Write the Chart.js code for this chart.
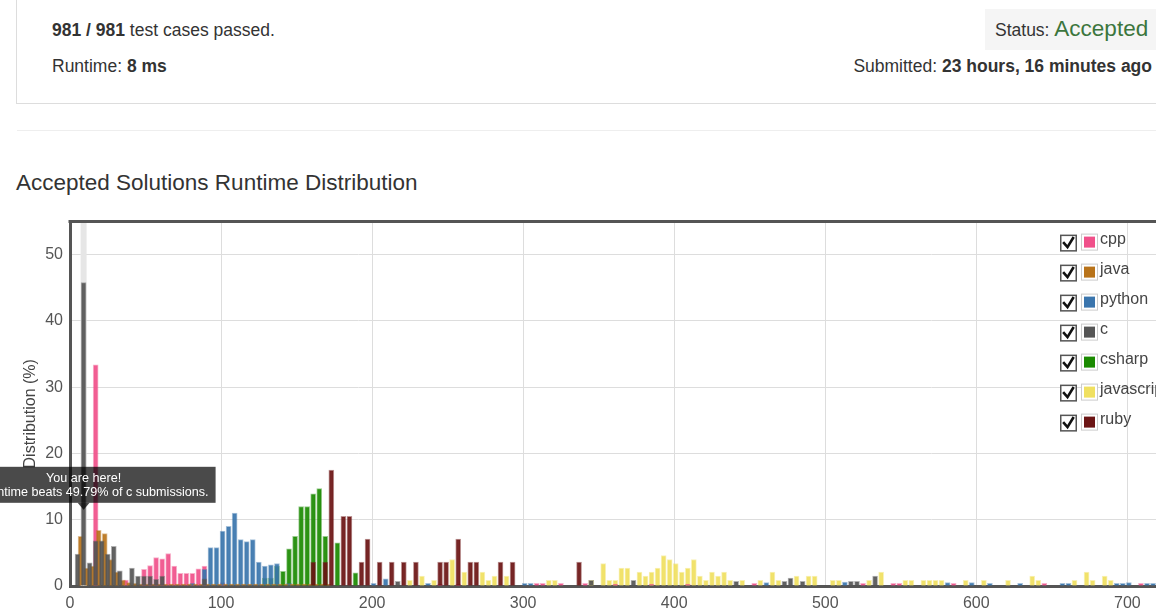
<!DOCTYPE html>
<html><head><meta charset="utf-8">
<script src="https://cdn.jsdelivr.net/npm/chart.js@4/dist/chart.umd.min.js"></script>
<style>
html,body{margin:0;padding:0;background:#fff;}
body{width:1156px;height:614px;overflow:hidden;position:relative;font-family:'Liberation Sans',Arial,Helvetica,sans-serif;color:#333;}
.panel{position:absolute;left:16px;top:-2px;width:1160px;height:104px;border:1px solid #ddd;}
.t{position:absolute;font-size:17.5px;color:#333;white-space:nowrap;line-height:20px;}
.status{position:absolute;left:985px;top:9px;width:190px;height:41px;background:#f5f5f5;}
.hr{position:absolute;left:17px;top:130px;width:1139px;height:1px;background:#eee;}
.title{position:absolute;left:16px;top:170px;font-size:22.5px;color:#333;white-space:nowrap;line-height:26px;}
#wrap{position:absolute;left:0;top:205px;width:1220px;height:409px;}
</style></head>
<body>
<div class="panel"></div>
<div class="t" style="left:52px;top:20px;"><b>981 / 981</b> test cases passed.</div>
<div class="t" style="left:52px;top:56px;">Runtime: <b>8 ms</b></div>
<div class="status"></div>
<div class="t" style="left:995px;top:19px;">Status: <span style="color:#3c763d;font-size:22.5px;">Accepted</span></div>
<div class="t" style="right:4px;top:56px;">Submitted: <b>23 hours, 16 minutes ago</b></div>
<div class="hr"></div>
<div class="title">Accepted Solutions Runtime Distribution</div>
<div id="wrap"><canvas id="c" width="1220" height="409"></canvas></div>
<script>
const xTicks = [0,100,200,300,400,500,600,700];
const yTicks = [0,10,20,30,40,50];
const yAxisTitle = 'Distribution (%)';

const cppX = [17,37,49,53,57,61,65,69,73,77,81,85,89,101,245,257,309,313,325,341,361,385,409,453,525,545,549,585,645,709];
const cppY = [33.4,0.9,2.5,3.1,4.3,4.1,4.9,3.0,1.9,1.9,1.9,2.6,3.0,0.5,0.3,0.3,0.4,0.4,0.4,0.4,0.3,0.3,0.3,0.4,0.4,0.4,0.4,0.4,0.4,0.4];

const javaX = [7,11,15,19,23,27,31,35,39,43,47,51,55,59,63,67,71,75,79,83,87,91,95,99,103,107,111,115,119,123,127,131,135,139,143,147,151,155,159,163,167,171];
const javaY = [7.5,2.7,3.0,8.4,7.9,4.0,2.1,0.9,0.5,0.4,0.3,0.3,0.3,0.3,0.3,0.3,0.3,0.3,0.3,0.3,0.3,0.3,0.3,0.3,0.3,0.3,0.3,0.3,0.3,0.3,0.3,0.3,0.3,0.3,0.3,0.3,0.3,0.3,0.3,0.3,0.3,0.3];

const pythonX = [81,89,93,97,101,105,109,113,117,121,125,129,133,137,145,201,209,237,301,305,461,513,581,597,609,629,657,661,693,697,701,713,717];
const pythonY = [0.4,2.5,5.8,5.8,8.3,9.0,11.0,7.0,6.7,7.0,3.6,3.0,3.2,3.4,0.4,0.4,1.1,0.4,0.4,0.4,0.5,0.6,0.5,0.5,0.4,0.4,0.4,0.4,0.4,0.4,0.5,0.4,0.4];

const cX = [5,9,13,17,21,25,29,33,41,45,49,53,57,61,89,217,345,373,441,473,477,485,517,521,533];
const cY = [4.8,45.8,3.5,6.8,6.8,4.8,6.0,2.3,2.7,1.5,1.5,1.5,1.0,1.5,1.1,0.7,0.85,0.85,0.7,0.7,1.2,0.7,0.7,0.7,1.5];

const csharpX = [129,133,137,141,145,149,153,157,161,165,169,177,189];
const csharpY = [1.2,1.2,3.0,2.2,5.6,7.5,12.0,12.0,13.9,14.7,7.5,6.5,2.0];

const jsX = [225,233,241,253,261,273,277,281,289,317,321,345,353,357,361,365,369,377,381,385,389,393,397,401,405,409,413,417,421,425,429,433,437,445,457,465,469,481,489,493,505,509,529,537,553,557,565,569,573,577,593,605,621,637,641,665,673,677,685,689];
const jsY = [0.85,1.5,0.85,4.0,2.1,2.1,0.85,1.5,1.5,0.85,0.85,0.85,3.4,0.85,0.85,2.7,2.7,2.1,1.5,2.1,2.7,4.6,4.0,3.4,2.1,2.7,4.0,1.5,0.85,2.1,1.5,2.1,0.85,0.85,0.85,2.1,0.85,1.5,1.5,1.5,0.85,0.85,0.85,2.1,0.85,0.85,0.85,0.85,0.85,0.85,0.85,0.85,0.85,1.5,0.85,0.85,2.1,0.85,1.5,0.85];

const rubyX = [161,169,173,181,185,193,197,205,213,221,229,245,249,257,265,269,285,293,337];
const rubyY = [3.6,3.6,17.5,10.5,10.5,3.6,7.1,3.6,3.6,3.6,3.6,3.6,3.6,7.1,3.6,3.6,3.6,3.6,3.6];

const youAreHereX = 9;
const tooltipAnchorY = 11.5;
const tooltipLines = ['You are here!', 'Runtime beats 49.79% of c submissions.'];

const langs = [
  {label:'cpp', color:'#f0508a', xs:cppX, ys:cppY, order:5},
  {label:'java', color:'#b8731a', xs:javaX, ys:javaY, order:2},
  {label:'python', color:'#3a75ad', xs:pythonX, ys:pythonY, order:3},
  {label:'c', color:'#555555', xs:cX, ys:cY, order:0},
  {label:'csharp', color:'#1a8a00', xs:csharpX, ys:csharpY, order:4},
  {label:'javascript', color:'#f0e060', xs:jsX, ys:jsY, order:6},
  {label:'ruby', color:'#6b1414', xs:rubyX, ys:rubyY, order:1}
];
function pts(xs, ys){ return xs.map((x,i)=>({x:x, y:ys[i]})); }
function hexA(h,a){const r=parseInt(h.slice(1,3),16),g=parseInt(h.slice(3,5),16),b=parseInt(h.slice(5,7),16);return `rgba(${r},${g},${b},${a})`;}

const FONT = "'Liberation Sans', Arial, sans-serif";
Chart.defaults.font.family = FONT;

const bandPlugin = {
  id:'band',
  beforeDatasetsDraw(chart){
    const ctx=chart.ctx, ca=chart.chartArea, x=chart.scales.x.getPixelForValue(youAreHereX);
    ctx.save(); ctx.fillStyle='#e6e6e6'; ctx.fillRect(x-3, ca.top, 6, ca.bottom-ca.top); ctx.restore();
  }
};
const overlayPlugin = {
  id:'overlay',
  afterDraw(chart){
    const ctx=chart.ctx, ca=chart.chartArea;
    ctx.save();
    ctx.strokeStyle='#555'; ctx.lineWidth=3;
    ctx.beginPath(); ctx.moveTo(ca.left-1.5, ca.top); ctx.lineTo(ca.right, ca.top); ctx.stroke();
    // y axis title
    ctx.save();
    ctx.translate(31, (ca.top+ca.bottom)/2 + 10);
    ctx.rotate(-Math.PI/2);
    ctx.fillStyle='#444'; ctx.font='16px '+FONT; ctx.textAlign='center'; ctx.textBaseline='middle';
    ctx.fillText(yAxisTitle, 0, 0);
    ctx.restore();
    // legend
    const x0 = ca.left + 990;
    chart.data.datasets.forEach((d,i)=>{
      const cy = ca.top + 21 + i*30;
      ctx.fillStyle='#fff'; ctx.fillRect(x0, cy-8, 17, 17);
      ctx.strokeStyle='#555'; ctx.lineWidth=1.5; ctx.strokeRect(x0+0.75, cy-7.25, 15.5, 15.5);
      ctx.strokeStyle='#111'; ctx.lineWidth=2.6; ctx.lineCap='square';
      ctx.beginPath(); ctx.moveTo(x0+4, cy+0.5); ctx.lineTo(x0+7.5, cy+4.5); ctx.lineTo(x0+13, cy-4.5); ctx.stroke();
      ctx.fillStyle='#fff'; ctx.fillRect(x0+21, cy-9, 17, 17);
      ctx.strokeStyle='#ccc'; ctx.lineWidth=1; ctx.strokeRect(x0+21.5, cy-8.5, 16, 16);
      ctx.fillStyle=d.legendColor; ctx.fillRect(x0+24, cy-6, 11, 11);
      ctx.fillStyle='#444'; ctx.font='16px '+FONT; ctx.textAlign='left'; ctx.textBaseline='alphabetic';
      ctx.fillText(d.label, x0+40, cy+1);
    });
    // tooltip
    const ax = chart.scales.x.getPixelForValue(youAreHereX);
    const tipY = chart.scales.y.getPixelForValue(tooltipAnchorY);
    const w=264, h=36, bx=ax-w/2, by=tipY-7-h;
    ctx.fillStyle='rgba(0,0,0,0.71)';
    ctx.fillRect(bx, by, w, h);
    ctx.beginPath(); ctx.moveTo(ax-6, by+h); ctx.lineTo(ax+6, by+h); ctx.lineTo(ax, by+h+7); ctx.closePath(); ctx.fill();
    ctx.fillStyle='#fff'; ctx.textBaseline='alphabetic';
    ctx.font='12.6px '+FONT;
    ctx.textAlign='center';
    ctx.fillText(tooltipLines[0], ax, by+15);
    ctx.textAlign='right';
    ctx.fillText(tooltipLines[1], bx+w-7, by+29);
    ctx.restore();
  }
};

new Chart(document.getElementById('c'), {
  type:'bar',
  data:{
    datasets: langs.map(l=>({
      label:l.label, data:pts(l.xs,l.ys), order:l.order,
      backgroundColor:hexA(l.color,0.92), borderColor:hexA(l.color,0.45), borderWidth:1,
      legendColor:l.color, barThickness:5, grouped:false
    }))
  },
  options:{
    responsive:false, animation:false,
    layout:{padding:{top:14,right:2,left:0,bottom:0}},
    plugins:{legend:{display:false}, tooltip:{enabled:false}},
    scales:{
      x:{type:'linear', min:0, max:760, offset:false,
        afterBuildTicks:s=>{s.ticks=xTicks.map(v=>({value:v}));},
        afterFit:s=>{s.height=28;},
        grid:{color:'#ddd', drawTicks:false, offset:false},
        border:{color:'#555', width:3},
        ticks:{color:'#555', font:{size:16}, padding:8, maxRotation:0, autoSkip:false}
      },
      y:{min:0, max:55,
        afterBuildTicks:s=>{s.ticks=yTicks.map(v=>({value:v}));},
        afterFit:s=>{s.width=70;},
        grid:{color:'#ddd', drawTicks:false},
        border:{color:'#555', width:3},
        ticks:{color:'#555', font:{size:16}, padding:7},
        title:{display:false}
      }
    }
  },
  plugins:[bandPlugin, overlayPlugin]
});
</script>
</body></html>
